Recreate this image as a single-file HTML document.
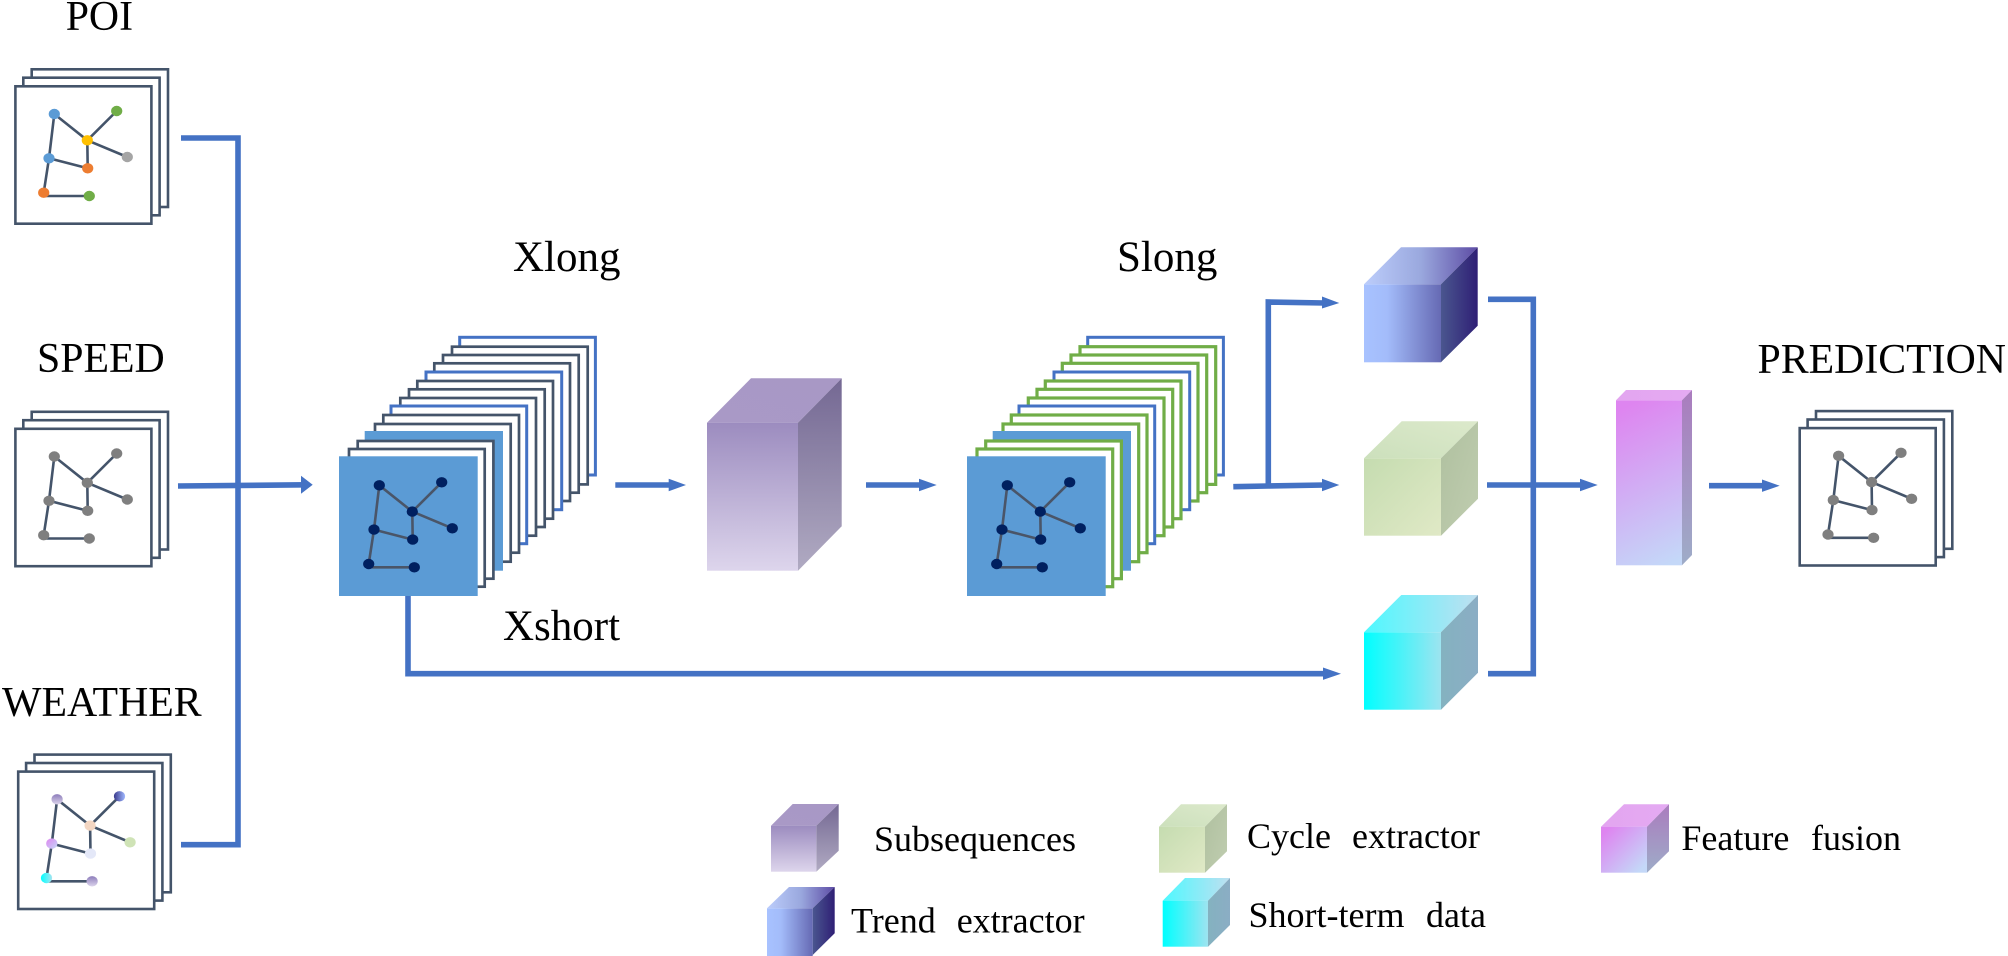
<!DOCTYPE html>
<html>
<head>
<meta charset="utf-8">
<style>
html,body{margin:0;padding:0;background:#fff}
svg{display:block}
text{font-family:"Liberation Serif","Times New Roman",serif;fill:#000}
.big{font-size:41.8px}
.mid{font-size:43px}
.leg{font-size:36px}
</style>
</head>
<body>
<svg width="2008" height="956" viewBox="0 0 2008 956" xmlns="http://www.w3.org/2000/svg">
<defs>
<linearGradient id="pF" x1="0" y1="0" x2="0" y2="1"><stop offset="0" stop-color="#9c8cbf"/><stop offset="1" stop-color="#ddd5ec"/></linearGradient>
<linearGradient id="pR" x1="0" y1="0" x2="0" y2="1"><stop offset="0" stop-color="#746893"/><stop offset="1" stop-color="#b0aac2"/></linearGradient>
<linearGradient id="pT" x1="0" y1="1" x2="1" y2="0"><stop offset="0" stop-color="#a999c6"/><stop offset="1" stop-color="#a898c5"/></linearGradient>
<linearGradient id="tF"><stop offset="0" stop-color="#a8c2ff"/><stop offset=".3" stop-color="#a3bcfa"/><stop offset="1" stop-color="#666ab4"/></linearGradient>
<linearGradient id="tR"><stop offset="0" stop-color="#4a568f"/><stop offset="1" stop-color="#2f1f75"/></linearGradient>
<linearGradient id="tT"><stop offset="0" stop-color="#bccdfb"/><stop offset=".5" stop-color="#9aa8de"/><stop offset="1" stop-color="#5d4ca5"/></linearGradient>
<linearGradient id="gF" x1="0" y1="0" x2="1" y2="1"><stop offset="0" stop-color="#c5dcb0"/><stop offset="1" stop-color="#e0e9c6"/></linearGradient>
<linearGradient id="gR" x1="0" y1="0" x2="1" y2="1"><stop offset="0" stop-color="#afc09f"/><stop offset="1" stop-color="#c0cdb0"/></linearGradient>
<linearGradient id="gT" x1="0" y1="1" x2="1" y2="0"><stop offset="0" stop-color="#cce0bc"/><stop offset="1" stop-color="#dce9cb"/></linearGradient>
<linearGradient id="cF"><stop offset="0" stop-color="#00ffff"/><stop offset="1" stop-color="#9de4f0"/></linearGradient>
<linearGradient id="cR" x1="0" y1="0" x2="1" y2="0"><stop offset="0" stop-color="#84b2c0"/><stop offset="1" stop-color="#8badc4"/></linearGradient>
<linearGradient id="cT"><stop offset="0" stop-color="#4ef9ff"/><stop offset="1" stop-color="#bfdff0"/></linearGradient>
<linearGradient id="fF" x1="0.1" y1="0.1" x2="0.9" y2="0.9"><stop offset="0" stop-color="#de85f0"/><stop offset="1" stop-color="#c4d8f8"/></linearGradient>
<linearGradient id="fF2" gradientUnits="userSpaceOnUse" x1="1610" y1="415" x2="1680" y2="560"><stop offset="0" stop-color="#de85f0"/><stop offset="1" stop-color="#c4d8f8"/></linearGradient>
<linearGradient id="fR" x1="0" y1="0" x2="0" y2="1"><stop offset="0" stop-color="#aa7cbe"/><stop offset="1" stop-color="#9eacc8"/></linearGradient>
<linearGradient id="fT"><stop offset="0" stop-color="#e3a5f0"/><stop offset="1" stop-color="#e4aaf2"/></linearGradient>
<linearGradient id="nP" x1="0" y1="0" x2="0" y2="1"><stop offset="0" stop-color="#8c7cba"/><stop offset="1" stop-color="#dcd4ec"/></linearGradient>
<linearGradient id="nB"><stop offset="0" stop-color="#3a3a8c"/><stop offset="1" stop-color="#a0b8ff"/></linearGradient>
<linearGradient id="nE" x1="0" y1="0" x2="1" y2="1"><stop offset="0" stop-color="#de85f0"/><stop offset="1" stop-color="#c4d8f8"/></linearGradient>
<linearGradient id="nC"><stop offset="0" stop-color="#00ffff"/><stop offset="1" stop-color="#a8e4f0"/></linearGradient>

<g id="edges" fill="none" stroke-width="2.6">
<path d="M39.6 28.3L72.6 54.6M39.6 28.3L34.3 72.6M72.6 54.6L102 25.3M72.6 54.6L112.6 71.3M72.6 54.6L73 82.6M34.3 72.6L73 82.6M34.3 72.6L29 107M29 110.3H74.6"/>
</g>
<g id="nodes">
<ellipse cx="39.6" cy="28.3" rx="5.6" ry="5.2"/><ellipse cx="102" cy="25.3" rx="5.6" ry="5.2"/><ellipse cx="72.6" cy="54.6" rx="5.6" ry="5.2"/><ellipse cx="112.6" cy="71.3" rx="5.6" ry="5.2"/><ellipse cx="34.3" cy="72.6" rx="5.6" ry="5.2"/><ellipse cx="73" cy="82.6" rx="5.6" ry="5.2"/><ellipse cx="29" cy="107" rx="5.6" ry="5.2"/><ellipse cx="74.6" cy="110.3" rx="5.6" ry="5.2"/>
</g>
<g id="stack" fill="#fff" stroke="#44546a" stroke-width="2.6">
<rect x="17" y="-16.4" width="136.3" height="137.7"/>
<rect x="8.6" y="-8" width="136.3" height="137.6"/>
<rect x="0.7" y="0.6" width="136" height="137.4"/>
</g>
<g id="layers" fill="#fff">
<rect x="459.7" y="337.3" width="135.7" height="137.7" stroke="#4472c4" stroke-width="3"/>
<rect x="452" y="346.7" width="135.7" height="137.7" stroke="currentColor"/>
<rect x="443" y="355" width="135.7" height="137.7" stroke="currentColor"/>
<rect x="434.3" y="363.3" width="135.7" height="137.7" stroke="currentColor"/>
<rect x="426" y="372" width="135.7" height="137.7" stroke="#4472c4" stroke-width="3"/>
<rect x="417.3" y="381" width="135.7" height="137.7" stroke="currentColor"/>
<rect x="409" y="389.3" width="135.7" height="137.7" stroke="currentColor"/>
<rect x="400.3" y="398" width="135.7" height="137.7" stroke="currentColor"/>
<rect x="391" y="406" width="135.7" height="137.7" stroke="#4472c4" stroke-width="3"/>
<rect x="383.3" y="415" width="135.7" height="137.7" stroke="currentColor"/>
<rect x="375" y="424" width="135.7" height="137.7" stroke="currentColor"/>
<rect x="364.7" y="431" width="138.3" height="139.7" fill="#5b9bd5"/>
<rect x="357.7" y="441" width="135.7" height="137.7" stroke="currentColor"/>
<rect x="349" y="449" width="135.7" height="137.7" stroke="currentColor"/>
<rect x="339" y="456.3" width="138.7" height="139.7" fill="#5b9bd5"/>
<g transform="translate(339.7,457)"><use href="#edges" stroke="#4a5568"/><use href="#nodes" fill="#002060"/></g>
</g>
</defs>
<rect width="2008" height="956" fill="#fff"/>

<!-- Labels -->
<text class="big" x="65.7" y="30">POI</text>
<text class="big" x="37" y="372">SPEED</text>
<text class="big" x="2" y="716">WEATHER</text>
<text class="mid" x="513" y="271">Xlong</text>
<text class="mid" x="1117" y="271">Slong</text>
<text class="mid" x="503" y="640">Xshort</text>
<text class="big" x="1757.5" y="373">PREDICTION</text>

<!-- Input stacks -->
<g transform="translate(14.7,85.7)"><use href="#stack"/><use href="#edges" stroke="#44546a"/>
<ellipse cx="39.6" cy="28.3" rx="5.6" ry="5.2" fill="#5b9bd5"/><ellipse cx="102" cy="25.3" rx="5.6" ry="5.2" fill="#70ad47"/><ellipse cx="72.6" cy="54.6" rx="5.6" ry="5.2" fill="#ffc000"/><ellipse cx="112.6" cy="71.3" rx="5.6" ry="5.2" fill="#a5a5a5"/><ellipse cx="34.3" cy="72.6" rx="5.6" ry="5.2" fill="#5b9bd5"/><ellipse cx="73" cy="82.6" rx="5.6" ry="5.2" fill="#ed7d31"/><ellipse cx="29" cy="107" rx="5.6" ry="5.2" fill="#ed7d31"/><ellipse cx="74.6" cy="110.3" rx="5.6" ry="5.2" fill="#70ad47"/>
</g>
<g transform="translate(14.7,428.2)"><use href="#stack"/><use href="#edges" stroke="#44546a"/><use href="#nodes" fill="#7f7f7f"/></g>
<g transform="translate(17.5,771)"><use href="#stack"/><use href="#edges" stroke="#44546a"/>
<ellipse cx="39.6" cy="28.3" rx="5.6" ry="5.2" fill="url(#nP)"/><ellipse cx="102" cy="25.3" rx="5.6" ry="5.2" fill="url(#nB)"/><ellipse cx="72.6" cy="54.6" rx="5.6" ry="5.2" fill="#f3d6c2"/><ellipse cx="112.6" cy="71.3" rx="5.6" ry="5.2" fill="#cfe3b6"/><ellipse cx="34.3" cy="72.6" rx="5.6" ry="5.2" fill="url(#nE)"/><ellipse cx="73" cy="82.6" rx="5.6" ry="5.2" fill="#e4e8f8"/><ellipse cx="29" cy="107" rx="5.6" ry="5.2" fill="url(#nC)"/><ellipse cx="74.6" cy="110.3" rx="5.6" ry="5.2" fill="url(#nP)"/>
</g>
<g transform="translate(1799,427.5)"><use href="#stack"/><use href="#edges" stroke="#44546a"/><use href="#nodes" fill="#7f7f7f"/></g>

<!-- Layer stacks -->
<use href="#layers" color="#44546a" stroke-width="2.7"/>
<use href="#layers" transform="translate(628,0)" color="#70ad47" stroke-width="3.2"/>

<!-- Connectors -->
<g fill="none" stroke="#4472c4" stroke-width="5.6">
<polyline points="181,138 238,138 238,844.7 181,844.7"/>
<polyline points="178,486 306,484.8"/>
<polyline points="408,596 408,673.7 1326,673.7"/>
<line x1="615.3" y1="485" x2="672" y2="485"/>
<line x1="866" y1="485" x2="922" y2="485"/>
<polyline points="1233.3,486.7 1268,486 1325,485"/>
<polyline points="1268.3,486 1268.3,302 1325,303"/>
<polyline points="1488,299.3 1533.3,299.3 1533.3,673.7 1488,673.7"/>
<line x1="1487" y1="485" x2="1583" y2="485"/>
<line x1="1709" y1="485.7" x2="1765" y2="485.7"/>
</g>
<g fill="#4472c4">
<polygon points="301,475.7 312.7,484.7 301,493.7"/>
<polygon points="668.7,478.8 686,485 668.7,491.2"/>
<polygon points="919,478.8 936.7,485 919,491.2"/>
<polygon points="1322,478.8 1339.3,485 1322,491.2"/>
<polygon points="1322,296.5 1339.3,303 1322,308.5"/>
<polygon points="1323,667.5 1341,673.7 1323,679.9"/>
<polygon points="1580,478.8 1597.7,485 1580,491.2"/>
<polygon points="1762,479.5 1779.7,485.7 1762,491.9"/>
</g>

<!-- Purple block -->
<polygon points="707,422.7 751,378.3 841.7,378.3 798,422.7" fill="url(#pT)"/>
<polygon points="798,422.7 841.7,378.3 841.7,526.3 798,570.7" fill="url(#pR)"/>
<rect x="707" y="422.7" width="91" height="148" fill="url(#pF)"/>

<!-- Trend cube -->
<polygon points="1364,284.3 1401,247.3 1477.7,247.3 1441,284.3" fill="url(#tT)"/>
<polygon points="1441,284.3 1477.7,247.3 1477.7,325.7 1441,362.3" fill="url(#tR)"/>
<rect x="1364" y="284.3" width="77" height="78" fill="url(#tF)"/>

<!-- Cycle cube -->
<polygon points="1364,458.3 1401.7,421.3 1478,421.3 1441,458.3" fill="url(#gT)"/>
<polygon points="1441,458.3 1478,421.3 1478,498.7 1441,535.7" fill="url(#gR)"/>
<rect x="1364" y="458.3" width="77" height="77.4" fill="url(#gF)"/>

<!-- Short-term cube -->
<polygon points="1364,632.3 1401.3,595 1478,595 1441,632.3" fill="url(#cT)"/>
<polygon points="1441,632.3 1478,595 1478,672.7 1441,709.7" fill="url(#cR)"/>
<rect x="1364" y="632.3" width="77" height="77.4" fill="url(#cF)"/>

<!-- Fusion block -->
<polygon points="1616,400.3 1626,390 1692,390 1682,400.3" fill="url(#fT)"/>
<polygon points="1682,400.3 1692,390 1692,555 1682,565.3" fill="url(#fR)"/>
<rect x="1616" y="400.3" width="66" height="165" fill="url(#fF2)"/>

<!-- Legend -->
<polygon points="771,825.7 792.7,804 838.7,804 816.3,825.7" fill="url(#pT)"/>
<polygon points="816.3,825.7 838.7,804 838.7,850.7 816.3,871.7" fill="url(#pR)"/>
<rect x="771" y="825.7" width="45.3" height="46" fill="url(#pF)"/>

<polygon points="767,908.3 789,887 834.7,887 812.7,908.3" fill="url(#tT)"/>
<polygon points="812.7,908.3 834.7,887 834.7,933.3 812.7,955" fill="url(#tR)"/>
<rect x="767" y="908.3" width="45.7" height="47.7" fill="url(#tF)"/>

<polygon points="1159,826.7 1181,804.3 1227,804.3 1205,826.7" fill="url(#gT)"/>
<polygon points="1205,826.7 1227,804.3 1227,851.3 1205,872.7" fill="url(#gR)"/>
<rect x="1159" y="826.7" width="46" height="46" fill="url(#gF)"/>

<polygon points="1162.7,900.7 1185,878 1230,878 1208,900.7" fill="url(#cT)"/>
<polygon points="1208,900.7 1230,878 1230,925 1208,946.7" fill="url(#cR)"/>
<rect x="1162.7" y="900.7" width="45.3" height="46" fill="url(#cF)"/>

<polygon points="1601,826.7 1624,804.3 1669,804.3 1647,826.7" fill="url(#fT)"/>
<polygon points="1647,826.7 1669,804.3 1669,851.3 1647,872.7" fill="url(#fR)"/>
<rect x="1601" y="826.7" width="46" height="46" fill="url(#fF)"/>

<text class="leg" x="874" y="851">Subsequences</text>
<text class="leg" x="851" y="932.7">Trend <tspan x="956.7">extractor</tspan></text>
<text class="leg" x="1247" y="848">Cycle <tspan x="1352">extractor</tspan></text>
<text class="leg" x="1248.5" y="927">Short-term <tspan x="1426">data</tspan></text>
<text class="leg" x="1681.4" y="850">Feature <tspan x="1811">fusion</tspan></text>
</svg>
</body>
</html>
